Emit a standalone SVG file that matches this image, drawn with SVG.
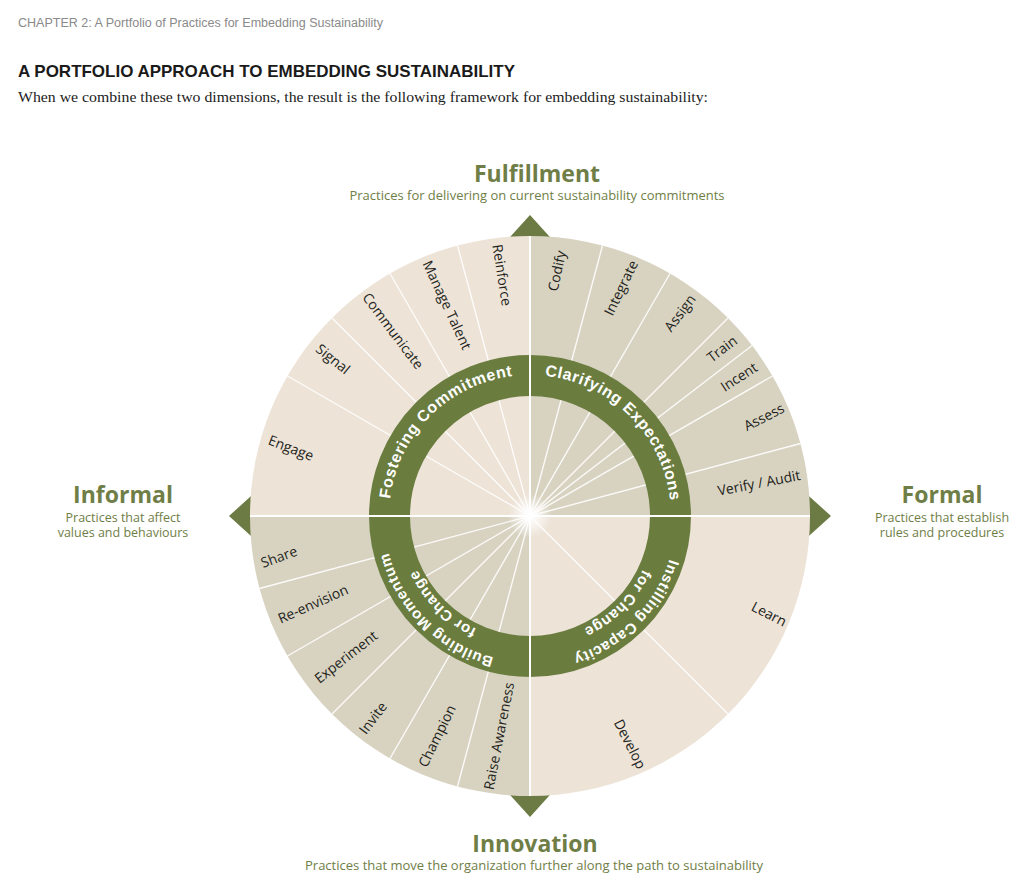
<svg xmlns="http://www.w3.org/2000/svg" xmlns:xlink="http://www.w3.org/1999/xlink" width="1024" height="888" viewBox="0 0 1024 888">
<defs>
<style>
.hd{font-family:"Open Sans","Noto Sans","Liberation Sans",sans-serif;font-weight:700;font-size:23px;fill:#6f7e46;text-anchor:middle}
.sub{font-family:"Open Sans","Noto Sans","Liberation Sans",sans-serif;font-size:13px;fill:#6f7e46;text-anchor:middle}
.sub2{font-family:"Open Sans","Noto Sans","Liberation Sans",sans-serif;font-size:12.5px;fill:#6f7e46;text-anchor:middle}
.lbl{font-family:"Open Sans","Noto Sans","Liberation Sans",sans-serif;font-size:14px;fill:#231f20;text-anchor:middle}
.ring{font-family:"Liberation Sans",Arial,sans-serif;font-weight:700;font-size:16px;fill:#ffffff;letter-spacing:0.6px}
.ring2{font-family:"Liberation Sans",Arial,sans-serif;font-weight:700;font-size:15px;fill:#ffffff;letter-spacing:0.7px}
.spoke{stroke:#ffffff;stroke-width:1.4;opacity:0.9}
.axis{stroke:#ffffff;stroke-width:2}
.tri{fill:#6b7b43}
.qa{fill:#ede3d7}
.qb{fill:#d8d3c1}
</style>
<radialGradient id="glow" cx="0.5" cy="0.5" r="0.5">
<stop offset="0" stop-color="#ffffff" stop-opacity="1"/>
<stop offset="0.35" stop-color="#ffffff" stop-opacity="0.7"/>
<stop offset="1" stop-color="#ffffff" stop-opacity="0"/>
</radialGradient>
<path id="pTL" d="M389,516 A141,141 0 0 1 530,375"/>
<path id="pTR" d="M530,375 A141,141 0 0 1 671,516"/>
<path id="pBRo" d="M676,516 A146,146 0 0 1 530,662"/>
<path id="pBRi" d="M655,516 A125,125 0 0 1 530,641"/>
<path id="pBLo" d="M530,662 A146,146 0 0 1 384,516"/>
<path id="pBLi" d="M530,641 A125,125 0 0 1 405,516"/>
</defs>
<rect width="1024" height="888" fill="#ffffff"/>

<g id="header">
<text x="18" y="27" font-family="Liberation Sans, Arial, sans-serif" font-size="12" fill="#8a8a8a" textLength="365" lengthAdjust="spacingAndGlyphs">CHAPTER 2: A Portfolio of Practices for Embedding Sustainability</text>
<text x="18" y="77" font-family="Liberation Sans, Arial, sans-serif" font-size="17" font-weight="700" fill="#1a1a1a" textLength="497" lengthAdjust="spacingAndGlyphs">A PORTFOLIO APPROACH TO EMBEDDING SUSTAINABILITY</text>
<text x="18" y="102" font-family="Liberation Serif, Times New Roman, serif" font-size="14.5" fill="#222222" textLength="690" lengthAdjust="spacingAndGlyphs">When we combine these two dimensions, the result is the following framework for embedding sustainability:</text>
</g>

<g id="dimensions">
<g id="fulfillment">
<text class="hd" x="537" y="182">Fulfillment</text>
<text class="sub" x="537" y="200" textLength="375" lengthAdjust="spacingAndGlyphs">Practices for delivering on current sustainability commitments</text>
</g>
<g id="informal">
<text class="hd" x="123" y="503">Informal</text>
<text class="sub2" x="123" y="522">Practices that affect</text>
<text class="sub2" x="123" y="537">values and behaviours</text>
</g>
<g id="formal">
<text class="hd" x="942" y="503">Formal</text>
<text class="sub2" x="942" y="522">Practices that establish</text>
<text class="sub2" x="942" y="537">rules and procedures</text>
</g>
<g id="innovation">
<text class="hd" x="535" y="852">Innovation</text>
<text class="sub" x="534" y="870" textLength="458" lengthAdjust="spacingAndGlyphs">Practices that move the organization further along the path to sustainability</text>
</g>
</g>

<g id="arrows">
<polygon class="tri" points="530,215 502,246 558,246"/>
<polygon class="tri" points="530,817 502,786 558,786"/>
<polygon class="tri" points="229,516 260,488 260,544"/>
<polygon class="tri" points="831,516 800,488 800,544"/>
</g>

<g id="wheel">
<path class="qa" d="M530,516 L250,516 A280,280 0 0 1 530,236 Z"/>
<path class="qb" d="M530,516 L530,236 A280,280 0 0 1 810,516 Z"/>
<path class="qa" d="M530,516 L810,516 A280,280 0 0 1 530,796 Z"/>
<path class="qb" d="M530,516 L530,796 A280,280 0 0 1 250,516 Z"/>
</g>

<g id="connectors">
<line class="spoke" x1="530" y1="516" x2="457.5" y2="245.5"/>
<line class="spoke" x1="530" y1="516" x2="390" y2="273.5"/>
<line class="spoke" x1="530" y1="516" x2="332" y2="318"/>
<line class="spoke" x1="530" y1="516" x2="287.5" y2="376"/>
<line class="spoke" x1="530" y1="516" x2="602.5" y2="245.5"/>
<line class="spoke" x1="530" y1="516" x2="670" y2="273.5"/>
<line class="spoke" x1="530" y1="516" x2="728" y2="318"/>
<line class="spoke" x1="530" y1="516" x2="752.1" y2="345.5"/>
<line class="spoke" x1="530" y1="516" x2="772.5" y2="376"/>
<line class="spoke" x1="530" y1="516" x2="800.5" y2="443.5"/>
<line class="spoke" x1="530" y1="516" x2="259.5" y2="588.5"/>
<line class="spoke" x1="530" y1="516" x2="287.5" y2="656"/>
<line class="spoke" x1="530" y1="516" x2="332" y2="714"/>
<line class="spoke" x1="530" y1="516" x2="390" y2="758.5"/>
<line class="spoke" x1="530" y1="516" x2="457.5" y2="786.5"/>
<line class="spoke" x1="530" y1="516" x2="728" y2="714"/>
</g>

<g id="ring">
<circle cx="530" cy="516" r="140.5" fill="none" stroke="#6a7d3f" stroke-width="41"/>
</g>

<g id="axes">
<line class="axis" x1="250" y1="516" x2="810" y2="516"/>
<line class="axis" x1="530" y1="236" x2="530" y2="796"/>
<circle cx="530" cy="516" r="22" fill="url(#glow)"/>
</g>

<g id="fostering-commitment">
<text class="ring"><textPath xlink:href="#pTL" href="#pTL" startOffset="50%" text-anchor="middle">Fostering Commitment</textPath></text>
<text class="lbl" transform="translate(502 275) rotate(81)" dy="0.35em">Reinforce</text>
<text class="lbl" transform="translate(447 305) rotate(65)" dy="0.35em">Manage Talent</text>
<text class="lbl" transform="translate(393 331) rotate(53)" dy="0.35em">Communicate</text>
<text class="lbl" transform="translate(333 359) rotate(39)" dy="0.35em">Signal</text>
<text class="lbl" transform="translate(291 448) rotate(21)" dy="0.35em">Engage</text>
</g>

<g id="clarifying-expectations">
<text class="ring"><textPath xlink:href="#pTR" href="#pTR" startOffset="50%" text-anchor="middle">Clarifying Expectations</textPath></text>
<text class="lbl" transform="translate(557 271) rotate(-78)" dy="0.35em">Codify</text>
<text class="lbl" transform="translate(621 288) rotate(-64)" dy="0.35em">Integrate</text>
<text class="lbl" transform="translate(680 313) rotate(-53)" dy="0.35em">Assign</text>
<text class="lbl" transform="translate(722 349) rotate(-37)" dy="0.35em">Train</text>
<text class="lbl" transform="translate(739 377) rotate(-33)" dy="0.35em">Incent</text>
<text class="lbl" transform="translate(764 417) rotate(-27)" dy="0.35em">Assess</text>
<text class="lbl" transform="translate(759 483) rotate(-11)" dy="0.35em">Verify / Audit</text>
</g>

<g id="instilling-capacity">
<text class="ring2"><textPath xlink:href="#pBRo" href="#pBRo" startOffset="50%" text-anchor="middle">Instilling Capacity</textPath></text>
<text class="ring2"><textPath xlink:href="#pBRi" href="#pBRi" startOffset="50%" text-anchor="middle">for Change</textPath></text>
<text class="lbl" transform="translate(769 614) rotate(27)" dy="0.35em">Learn</text>
<text class="lbl" transform="translate(630 744) rotate(63)" dy="0.35em">Develop</text>
</g>

<g id="building-momentum">
<text class="ring2"><textPath xlink:href="#pBLo" href="#pBLo" startOffset="50%" text-anchor="middle">Building Momentum</textPath></text>
<text class="ring2"><textPath xlink:href="#pBLi" href="#pBLi" startOffset="50%" text-anchor="middle">for Change</textPath></text>
<text class="lbl" transform="translate(279 557) rotate(-20)" dy="0.35em">Share</text>
<text class="lbl" transform="translate(313 604) rotate(-24)" dy="0.35em">Re-envision</text>
<text class="lbl" transform="translate(346 657) rotate(-38)" dy="0.35em">Experiment</text>
<text class="lbl" transform="translate(373 718) rotate(-53)" dy="0.35em">Invite</text>
<text class="lbl" transform="translate(437 736) rotate(-64)" dy="0.35em">Champion</text>
<text class="lbl" transform="translate(499 736) rotate(-79)" dy="0.35em">Raise Awareness</text>
</g>
</svg>
